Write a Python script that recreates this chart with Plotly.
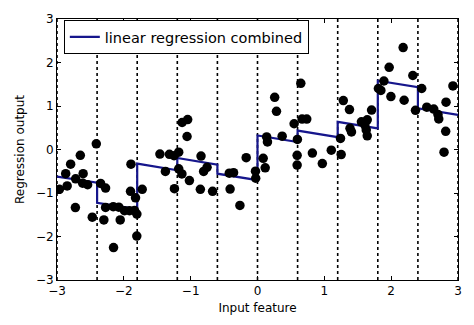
import plotly.graph_objects as go

# ---- data ----
x_points = [-2.412, -2.651, -2.796, -2.870, -2.609, -2.721, -2.616, -2.542, -2.848, -2.964,
            -2.348, -2.273, -2.725, -2.472, -2.299, -2.273, -2.158, -2.075, -1.990, -1.915,
            -1.840, -1.805, -2.054, -2.154, -1.806, -1.893, -1.900, -1.825, -1.725, -1.460,
            -1.128, -1.045, -1.054, -1.318, -1.248, -1.179, -1.378, -1.179, -1.131, -1.019,
            -1.243, -0.855, -0.845, -0.806, -0.755, -0.672, -0.410, -0.422, -0.358, -0.263,
            -0.169, -0.030, -0.027, 0.085, 0.115, 0.149, 0.137, 0.257, 0.284, 0.369,
            0.548, 0.667, 0.737, 0.597, 0.593, 0.593, 0.648, 0.821, 0.970, 1.104,
            1.252, 1.242, 1.284, 1.376, 1.384, 1.406, 1.555, 1.642, 1.607, 1.627,
            1.642, 1.707, 1.809, 1.846, 1.891, 1.970, 1.996, 2.179, 2.194, 2.324,
            2.457, 2.364, 2.533, 2.637, 2.700, 2.712, 2.821, 2.816, 2.924, 2.791]
y_points = [0.130, -0.135, -0.337, -0.556, -0.556, -0.675, -0.774, -0.810, -0.837, -0.916,
            -0.781, -0.886, -1.336, -1.557, -1.620, -1.332, -1.314, -1.327, -1.406, -1.406,
            -1.404, -1.485, -1.620, -2.254, -1.989, -0.337, -0.961, -1.111, -0.916, -0.106,
            0.621, 0.688, 0.299, -0.112, -0.144, -0.061, -0.504, -0.443, -0.562, -0.713,
            -0.900, -0.916, -0.151, -0.504, -0.409, -0.961, -0.909, -0.544, -0.533, -1.287,
            -0.189, -0.499, -0.661, -0.202, -0.421, 0.175, 0.288, 1.199, 0.877, 0.306,
            0.592, 0.700, 0.700, 0.232, -0.133, -0.358, 1.521, -0.083, -0.324, -0.016,
            -0.117, 0.254, 1.125, 0.918, 0.486, 0.405, 0.637, 0.682, 0.562, 0.450,
            0.315, 0.907, 1.402, 1.357, 1.575, 1.890, 1.217, 2.342, 1.132, 1.701,
            1.402, 0.900, 0.974, 0.929, 0.805, 0.704, 1.087, 0.418, 1.462, -0.061]

bins = [-3.0, -2.4, -1.8, -1.2, -0.6, 0.0, 0.6, 1.2, 1.8, 2.4, 3.0]
# regression line value at the start and end of each bin
line_start = [-0.623, -1.224, -0.324, -0.196, -0.556, 0.322, 0.434, 0.637, 1.582, 0.945]
line_end = [-0.765, -1.372, -0.477, -0.349, -0.706, 0.171, 0.283, 0.486, 1.431, 0.794]

x_ticks = [-3, -2, -1, 0, 1, 2, 3]
y_ticks = [-3, -2, -1, 0, 1, 2, 3]

# ---- build ----
line_x, line_y = [], []
for i in range(len(line_start)):
    line_x += [bins[i], bins[i + 1]]
    line_y += [line_start[i], line_end[i]]

FONT = "DejaVu Sans"
fig = go.Figure()
fig.add_trace(go.Scatter(x=line_x, y=line_y, mode="lines",
                         line=dict(color="#16168c", width=2.2),
                         name="linear regression combined"))
fig.add_trace(go.Scatter(x=x_points, y=y_points, mode="markers",
                         marker=dict(color="black", size=9.5),
                         showlegend=False))

for b in bins:
    fig.add_shape(type="line", xref="x", yref="y", x0=b, x1=b, y0=-3, y1=3,
                  line=dict(color="black", width=1.6, dash="dot"), layer="below")

axis_common = dict(showgrid=False, zeroline=False, showline=True, linecolor="black",
                   linewidth=1, mirror="ticks", ticks="inside", ticklen=4,
                   tickcolor="black", tickwidth=1,
                   tickfont=dict(family=FONT, size=12, color="black"))
fig.update_xaxes(range=[-3, 3], tickvals=x_ticks, title=dict(text="Input feature",
                 font=dict(family=FONT, size=12, color="black"), standoff=6),
                 **axis_common)
fig.update_yaxes(range=[-3, 3], tickvals=y_ticks, title=dict(text="Regression output",
                 font=dict(family=FONT, size=12, color="black"), standoff=8),
                 **axis_common)

fig.update_layout(
    width=474, height=325,
    margin=dict(l=57, r=15, t=15, b=43),
    plot_bgcolor="white", paper_bgcolor="white",
    font=dict(family=FONT, size=12, color="black"),
    legend=dict(x=0.017, y=0.996, xanchor="left", yanchor="top",
                bgcolor="white", bordercolor="black", borderwidth=1,
                font=dict(family=FONT, size=14.5, color="black")),
)
fig.write_html("out.html")
